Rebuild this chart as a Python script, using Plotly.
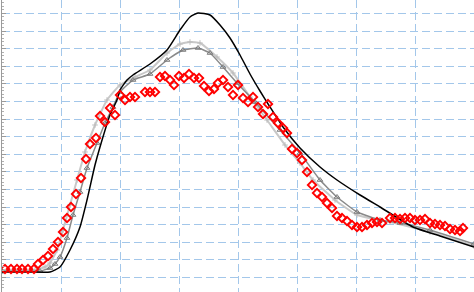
import plotly.graph_objects as go

# Black curve
black_x = [0, 28, 48, 58, 68, 78, 85, 93, 98, 108, 115, 118, 125, 131, 148, 165, 178, 188, 196, 208,
           218, 228, 238, 248, 258, 268, 281, 298, 318, 335, 358, 378, 411, 438, 472]
black_y = [23, 23, 23, 28, 45, 68, 95, 130, 148, 180, 195, 205, 215, 220, 231, 245, 265, 278, 282, 280,
           270, 257, 240, 221, 204, 188, 168, 147, 128, 115, 100, 88, 68, 59, 48]

# Dark gray curve (triangles)
dgray_x = [0, 38, 48, 53, 58, 65, 71, 78, 85, 95, 103, 111, 118, 131, 148, 165, 181, 196, 208, 221,
           235, 253, 278, 298, 318, 335, 355, 378, 398, 428, 472]
dgray_y = [24, 24, 27, 31, 38, 57, 80, 103, 127, 152, 172, 188, 203, 215, 221, 235, 245, 247, 242, 228,
           212, 193, 165, 142, 115, 98, 83, 75, 72, 65, 51]

# Light gray curve
lgray_x = [0, 33, 43, 48, 55, 61, 68, 75, 83, 93, 105, 118, 133, 148, 165, 178, 188, 198, 215, 231,
           248, 265, 283, 298, 311, 333, 355, 388, 428, 472]
lgray_y = [25, 25, 28, 32, 45, 65, 90, 115, 143, 170, 195, 210, 218, 225, 242, 251, 253, 252, 238, 222,
           198, 175, 150, 132, 115, 95, 80, 73, 63, 49]

# Red diamonds
red_x = [3, 9, 15, 20, 26, 32, 36, 41, 46, 51, 56, 61, 65, 69, 74, 79, 84, 88, 94, 98,
         103, 108, 113, 118, 123, 128, 133, 143, 148, 153, 158, 163, 168, 172, 177, 182, 187, 192, 197, 202,
         207, 212, 216, 221, 226, 231, 236, 241, 246, 251, 256, 261, 266, 271, 276, 281, 285, 290, 295, 300,
         305, 310, 315, 320, 325, 330, 335, 340, 345, 350, 355, 360, 365, 370, 375, 380, 388, 393, 398, 403,
         408, 413, 418, 423, 428, 433, 438, 443, 448, 453, 458, 461]
red_y = [26, 26, 26, 26, 26, 26, 31, 35, 39, 46, 53, 63, 77, 88, 101, 117, 136, 151, 157, 179,
         173, 187, 180, 200, 195, 198, 198, 203, 203, 203, 218, 219, 215, 210, 219, 217, 221, 217, 217, 209,
         204, 206, 212, 215, 208, 200, 210, 197, 193, 198, 188, 181, 191, 178, 172, 167, 162, 146, 142, 135,
         123, 110, 102, 98, 92, 87, 79, 77, 74, 70, 68, 68, 70, 72, 73, 72, 77, 77, 76, 77,
         77, 75, 75, 76, 72, 71, 70, 69, 66, 65, 64, 67]

fig = go.Figure()
fig.add_trace(go.Scatter(x=lgray_x, y=lgray_y, mode="lines+markers",
                         line=dict(color="#c8c8c8", width=2, shape="spline", smoothing=0.4),
                         marker=dict(symbol="cross-thin-open", size=4, color="#bdbdbd",
                                     line=dict(color="#bdbdbd", width=1))))
fig.add_trace(go.Scatter(x=dgray_x, y=dgray_y, mode="lines+markers",
                         line=dict(color="#8a8a8a", width=1.5, shape="spline", smoothing=0.4),
                         marker=dict(symbol="triangle-up-open", size=5, color="#7a7a7a",
                                     line=dict(color="#7a7a7a", width=1))))
fig.add_trace(go.Scatter(x=black_x, y=black_y, mode="lines",
                         line=dict(color="#000000", width=1.5, shape="spline", smoothing=0.5)))
fig.add_trace(go.Scatter(x=red_x, y=red_y, mode="markers",
                         marker=dict(symbol="diamond-open", size=6.5, color="#ff0000",
                                     line=dict(color="#ff1010", width=1.8))))

grid = dict(showgrid=True, gridcolor="#a3c7ea", griddash="8px,4px", gridwidth=1,
            zeroline=False, showticklabels=False)
fig.update_layout(
    width=474, height=292, margin=dict(l=2, r=0, t=0, b=0),
    paper_bgcolor="white", plot_bgcolor="white", showlegend=False,
    xaxis=dict(range=[0, 472], tick0=0, dtick=59, ticks="", **grid),
    yaxis=dict(range=[3, 295], tick0=0, dtick=17.6, ticks="inside", ticklen=4,
               tickcolor="#9a9a9a", showline=True, linecolor="#9a9a9a", linewidth=1,
               minor=dict(dtick=3.52, ticks="inside", ticklen=2, tickcolor="#b0b0b0", showgrid=False),
               **grid),
)
fig.write_html("out.html")
